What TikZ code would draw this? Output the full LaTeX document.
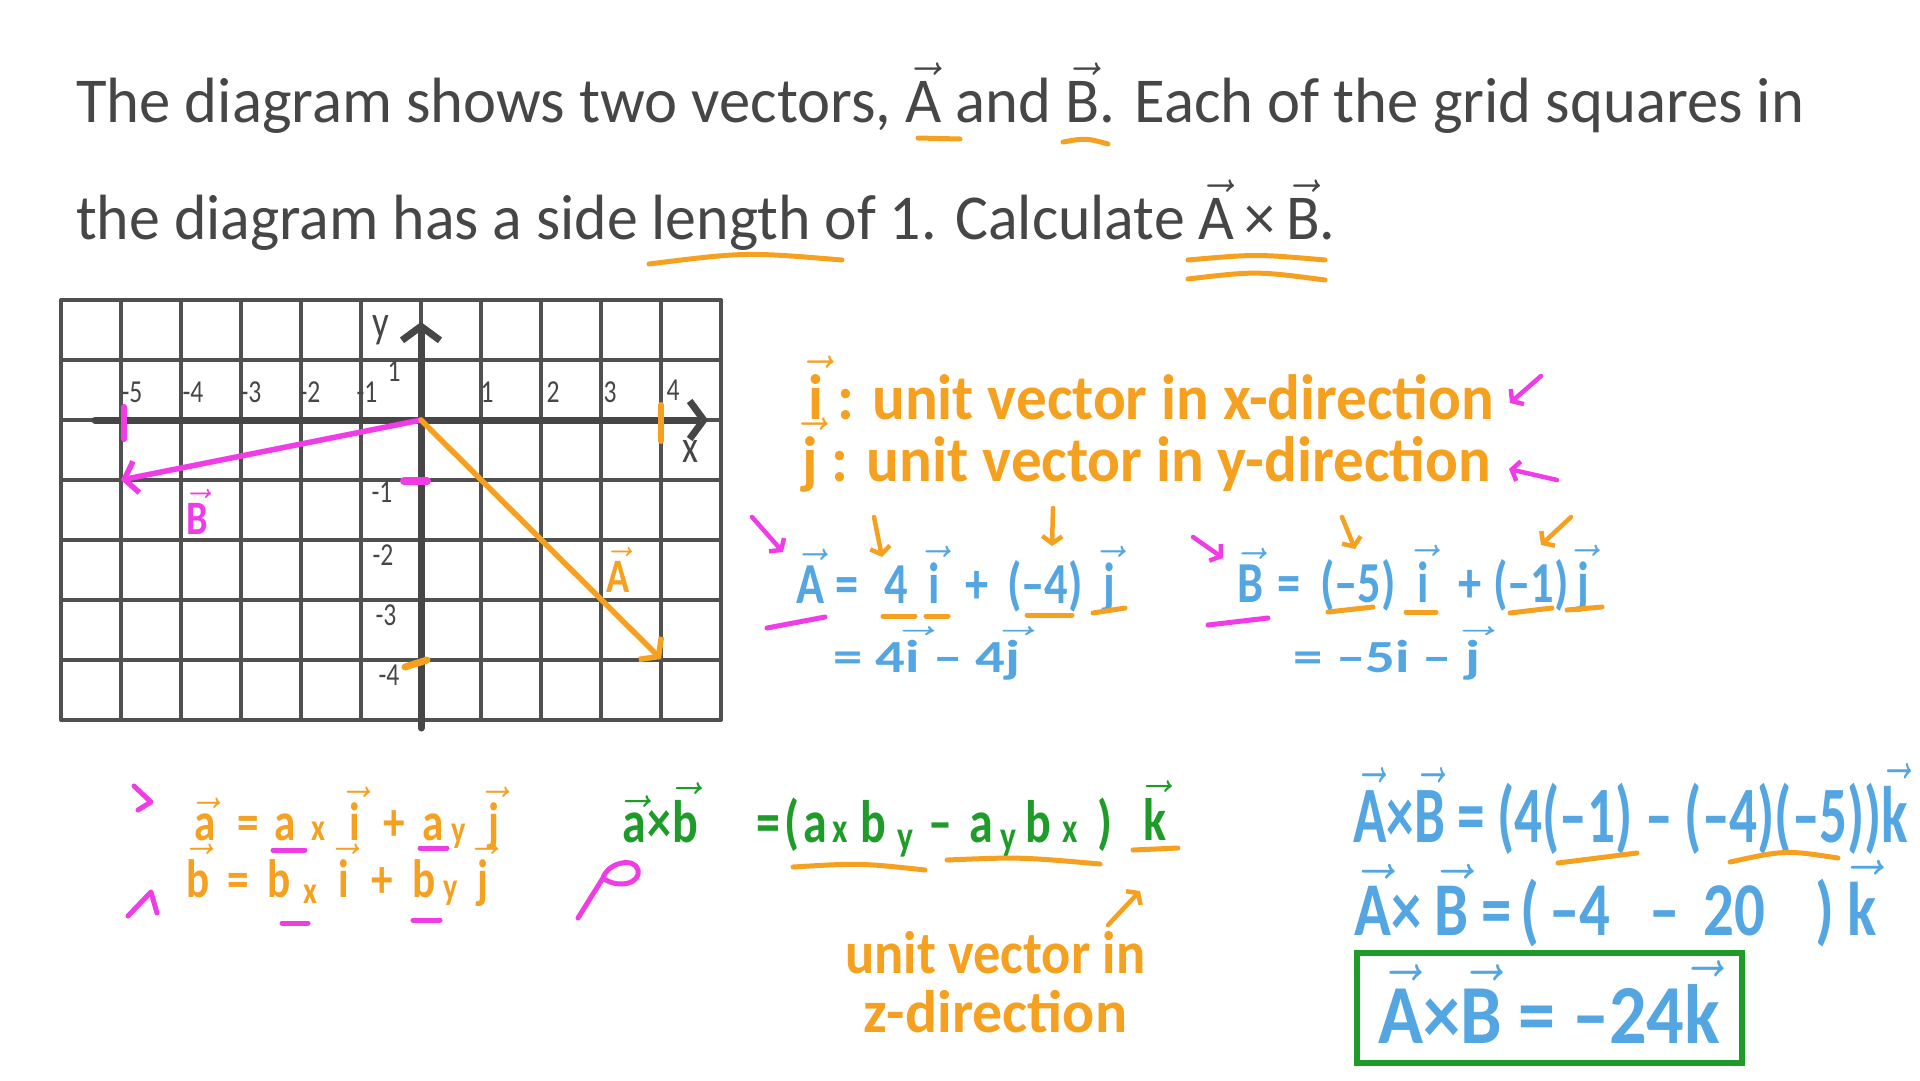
\RequirePackage{fix-cm}
\documentclass[tikz,border=0pt]{standalone}
\usepackage{graphicx}
\usepackage{fontspec}
\setmainfont{Carlito}
\newfontfamily\hc{Carlito}[FakeStretch=0.8]
\usetikzlibrary{arrows.meta}
\definecolor{ink}{RGB}{70,70,70}
\definecolor{gridc}{RGB}{80,80,80}
\definecolor{org}{RGB}{245,160,30}
\definecolor{pnk}{RGB}{240,60,230}
\definecolor{blu}{RGB}{84,166,226}
\definecolor{grn}{RGB}{30,155,40}
\newcommand{\vv}[1]{\ensuremath{\vec{\mbox{#1}}}}
\newcommand{\fitw}[2]{\resizebox{#1}{\height}{#2}}
\newcommand{\fs}[1]{\fontsize{#1}{#1}\selectfont}
\begin{document}
\begin{tikzpicture}[x=1pt,y=-1pt,
  every node/.style={inner sep=0pt},
  cmp/.style={anchor=base},
  txt/.style={anchor=base west},
  ul/.style={line width=5pt, line cap=round},
  harr/.style={line width=4.5pt, line cap=round, line join=round, -{Straight Barb[length=7pt,width=20pt]}},
  gl/.style={line width=3.5pt, draw=gridc, line cap=round},
  axisl/.style={line width=7pt, draw=ink, line cap=round, -{Straight Barb[length=14pt,width=38pt]}},
  vecl/.style={line width=5.5pt, line cap=round, -{Straight Barb[length=12pt,width=32pt]}},
  tick/.style={font=\hc\fs{32}, text=ink},
  beq/.style={cmp, text=blu, font=\hc\bfseries\fs{58}},
  req/.style={cmp, text=blu, font=\hc\bfseries\fs{76}},
  oeq/.style={cmp, text=org, font=\hc\bfseries\fs{54}},
  osub/.style={cmp, text=org, font=\hc\bfseries\fs{38}},
  geq/.style={cmp, text=grn, font=\hc\bfseries\fs{60}},
  gsub/.style={cmp, text=grn, font=\hc\bfseries\fs{42}},
  pmark/.style={line width=5pt, line cap=round, line join=round},
]
\fill[white] (0,0) rectangle (1920,1080);
\useasboundingbox (0,0) rectangle (1920,1080);

% ---------- grid ----------
\foreach \i in {0,...,11} {\draw[gl] ({61+60*\i},300) -- ({61+60*\i},720);}
\foreach \j in {0,...,7} {\draw[gl] (61,{300+60*\j}) -- (721,{300+60*\j});}

\coordinate (O) at (421,420);
\coordinate (xs) at (95,420);
\coordinate (xe) at (708,420);
\coordinate (ys) at (421,728);
\coordinate (ye) at (421,322);
\draw[axisl] (xs) -- (xe);
\draw[axisl] (ys) -- (ye);

\node[tick] (txa) at (132,392) {-5};
\node[tick] (txb) at (193,392) {-4};
\node[tick] (txc) at (251,392) {-3};
\node[tick] (txd) at (310,392) {-2};
\node[tick] (txe) at (367,392) {-1};
\node[tick] (txf) at (487,392) {1};
\node[tick] (txg) at (553,392) {2};
\node[tick] (txh) at (610,392) {3};
\node[tick] (txi) at (673,390) {4};
\node[tick] (tya) at (394,371) {1};
\node[tick] (tyb) at (382,492) {-1};
\node[tick] (tyc) at (383,555) {-2};
\node[tick] (tyd) at (386,615) {-3};
\node[tick] (tye) at (389,675) {-4};
\node[font=\hc\fs{46}, text=ink] (ylab) at (381,330) {y};
\node[font=\hc\fs{46}, text=ink] (xlab) at (690,452) {x};

\draw[ul, pnk, line width=6pt] (124,407) -- (124,439);
\draw[ul, pnk, line width=8pt] (404,481) -- (427,481);
\draw[ul, org, line width=6pt] (661,405) -- (661,441);
\draw[ul, org, line width=7pt] (405,667) -- (427,660);

\coordinate (Atip) at (661,659);
\coordinate (Btip) at (121,480);
\draw[vecl, pnk] (O) -- (Btip);
\draw[vecl, org] (O) -- (Atip);
\node[text=pnk, font=\hc\bfseries\fs{48}] (Blab) at (197,512) {\vv{B}};
\node[text=org, font=\hc\bfseries\fs{48}] (Alab) at (618,570) {\vv{A}};

% ---------- title ----------
\node[txt, text=ink] (t1) at (76,122) {\fitw{1728pt}{\fs{64}The diagram shows two vectors, \vv{A} and \vv{B}. Each of the grid squares in}};
\node[txt, text=ink] (t2) at (76,239) {\fitw{1259pt}{\fs{64}the diagram has a side length of 1. Calculate \vv{A}\,×\,\vv{B}.}};
\draw[ul, org] (918,138) -- (960,139);
\draw[ul, org] (1063,142) .. controls (1086,138) .. (1108,144);
\draw[ul, org] (649,264) .. controls (745,252) .. (842,260);
\draw[ul, org] (1188,260) .. controls (1256,254) .. (1325,260);
\draw[ul, org] (1188,279) .. controls (1256,271) .. (1325,280);

% ---------- unit vectors ----------
\node[txt, text=org] (li) at (808,419) {\fitw{686pt}{\bfseries\fs{64}\vv{i} : unit vector in x-direction}};
\node[txt, text=org] (lj) at (802,481) {\fitw{689pt}{\bfseries\fs{64}\vv{j} : unit vector in y-direction}};
\coordinate (pia) at (1541,376); \coordinate (pib) at (1510,403);
\coordinate (pja) at (1557,480); \coordinate (pjb) at (1509,469);
\draw[harr, pnk] (pia) -- (pib);
\draw[harr, pnk] (pja) -- (pjb);

% ---------- A equation ----------
\node[beq] (eA) at (811,603) {\vv{A}};
\node[beq] (eAeq) at (847,603) {=};
\node[beq] (eA4) at (896,603) {4};
\node[beq] (eAi) at (934,603) {\vv{i}};
\node[beq] (eAp) at (977,603) {+};
\node[beq] (eAm) at (1045,603) {(–4)};
\node[beq] (eAj) at (1109,603) {\vv{j}};
\draw[ul, pnk] (767,628) -- (825,617);
\draw[ul, org] (883,616) -- (915,616);
\draw[ul, org] (926,616) -- (948,616);
\draw[ul, org] (1027,615) -- (1072,615);
\draw[ul, org] (1093,613) -- (1125,608);
\coordinate (paa) at (752,517); \coordinate (pab) at (783,552);
\draw[harr, pnk] (paa) -- (pab);
\coordinate (oaa) at (874,517); \coordinate (oab) at (882,557);
\draw[harr, org] (oaa) -- (oab);
\coordinate (oba) at (1053,508); \coordinate (obb) at (1052,546);
\draw[harr, org] (oba) -- (obb);
\node[cmp, text=blu] (eA2) at (927,672) {\fitw{187pt}{\hc\bfseries\fs{46}= 4\vv{i} – 4\vv{j}}};

% ---------- B equation ----------
\node[beq] (eB) at (1250,602) {\vv{B}};
\node[beq] (eBeq) at (1289,602) {=};
\node[beq] (eB5) at (1358,602) {(–5)};
\node[beq] (eBi) at (1423,602) {\vv{i}};
\node[beq] (eBp) at (1470,602) {+};
\node[beq] (eB1) at (1531,602) {(–1)};
\node[beq] (eBj) at (1583,602) {\vv{j}};
\draw[ul, pnk] (1208,625) -- (1268,618);
\draw[ul, org] (1328,612) -- (1373,607);
\draw[ul, org] (1406,612) -- (1436,612);
\draw[ul, org] (1510,613) -- (1552,608);
\draw[ul, org] (1567,610) -- (1602,607);
\coordinate (pba) at (1193,537); \coordinate (pbb) at (1223,558);
\draw[harr, pnk] (pba) -- (pbb);
\coordinate (oca) at (1342,517); \coordinate (ocb) at (1355,549);
\draw[harr, org] (oca) -- (ocb);
\coordinate (oda) at (1571,517); \coordinate (odb) at (1541,545);
\draw[harr, org] (oda) -- (odb);
\node[cmp, text=blu] (eB2) at (1387,672) {\fitw{187pt}{\hc\bfseries\fs{46}= –5i – \vv{j}}};

% ---------- components a, b ----------
\draw[pmark, pnk] (134,786) -- (151,802) -- (138,810);
\node[oeq] (la) at (205,840) {\vv{a}};
\node[oeq] (laeq) at (248,840) {=};
\node[oeq] (lax) at (285,840) {a};
\node[osub] (laxs) at (318,840) {x};
\node[oeq] (lai) at (355,840) {\vv{i}};
\node[oeq] (lap) at (394,840) {+};
\node[oeq] (lay) at (433,840) {a};
\node[osub] (lays) at (459,842) {y};
\node[oeq] (laj) at (494,840) {\vv{j}};
\draw[ul, pnk] (273,850) -- (305,850);
\draw[ul, pnk] (420,848) -- (447,848);

\node[oeq] (lb) at (198,897) {\vv{b}};
\node[oeq] (lbeq) at (238,897) {=};
\node[oeq] (lbx) at (279,897) {b};
\node[osub] (lbxs) at (310,903) {x};
\node[oeq] (lbi) at (344,897) {\vv{i}};
\node[oeq] (lbp) at (382,897) {+};
\node[oeq] (lby) at (424,897) {b};
\node[osub] (lbys) at (451,899) {y};
\node[oeq] (lbj) at (483,897) {\vv{j}};
\draw[ul, pnk] (282,923) -- (308,923);
\draw[ul, pnk] (413,920) -- (440,920);
\draw[pmark, pnk] (128,916) -- (151,892) -- (157,913);

% ---------- cross product formula ----------
\node[geq] (ga) at (634,842) {\vv{a}};
\node[geq] (gx) at (659,842) {×};
\node[geq] (gb) at (685,842) {\vv{b}};
\node[geq] (geqs) at (768,842) {=};
\node[geq] (gpl) at (792,842) {(};
\node[geq] (ga1) at (815,842) {a};
\node[gsub] (gs1) at (840,842) {x};
\node[geq] (gb1) at (873,842) {b};
\node[gsub] (gs2) at (905,850) {y};
\node[geq] (gm) at (940,842) {–};
\node[geq] (ga2) at (981,842) {a};
\node[gsub] (gs3) at (1008,850) {y};
\node[geq] (gb2) at (1038,842) {b};
\node[gsub] (gs4) at (1070,842) {x};
\node[geq] (gpr) at (1105,842) {)};
\node[geq] (gk) at (1155,840) {\vv{k}};
\draw[ul, org] (793,867) .. controls (860,863) .. (925,870);
\draw[ul, org] (947,860) .. controls (1020,857) .. (1100,864);
\draw[ul, org] (1133,850) -- (1178,848);
\draw[pmark, pnk] (578,918) -- (603,878) .. controls (608,862) and (635,857) .. (638,870) .. controls (641,884) and (617,889) .. (603,878);
\coordinate (oka) at (1108,925); \coordinate (okb) at (1140,891);
\draw[harr, org] (oka) -- (okb);
\node[txt, text=org] (uv1) at (845,973) {\fitw{300pt}{\bfseries\fs{60}unit vector in}};
\node[txt, text=org] (uv2) at (863,1032) {\fitw{264pt}{\bfseries\fs{60}z-direction}};

% ---------- result ----------
\node[txt, text=blu] (r1) at (1353,842) {\fitw{555pt}{\bfseries\fs{80}\vv{A}×\vv{B} = (4(–1) – (–4)(–5))\vv{k}}};
\draw[ul, org] (1558,863) -- (1637,853);
\draw[ul, org] (1730,862) .. controls (1785,850) .. (1838,858);
\node[req] (r2a) at (1373,935) {\vv{A}};
\node[req] (r2b) at (1407,935) {×};
\node[req] (r2c) at (1452,935) {\vv{B}};
\node[req] (r2d) at (1497,935) {=};
\node[req] (r2e) at (1530,935) {(};
\node[req] (r2f) at (1580,935) {–4};
\node[req] (r2g) at (1665,935) {–};
\node[req] (r2h) at (1734,935) {20};
\node[req] (r2i) at (1825,935) {)};
\node[req] (r2j) at (1862,935) {\vv{k}};
\node[draw=grn, line width=6pt, minimum width=385pt, minimum height=110pt] (box) at (1549.5,1008) {};
\node[txt, text=blu] (r3) at (1378,1043) {\fitw{342pt}{\bfseries\fs{84}\vv{A}×\vv{B} = –24\vv{k}}};
\end{tikzpicture}
\end{document}
